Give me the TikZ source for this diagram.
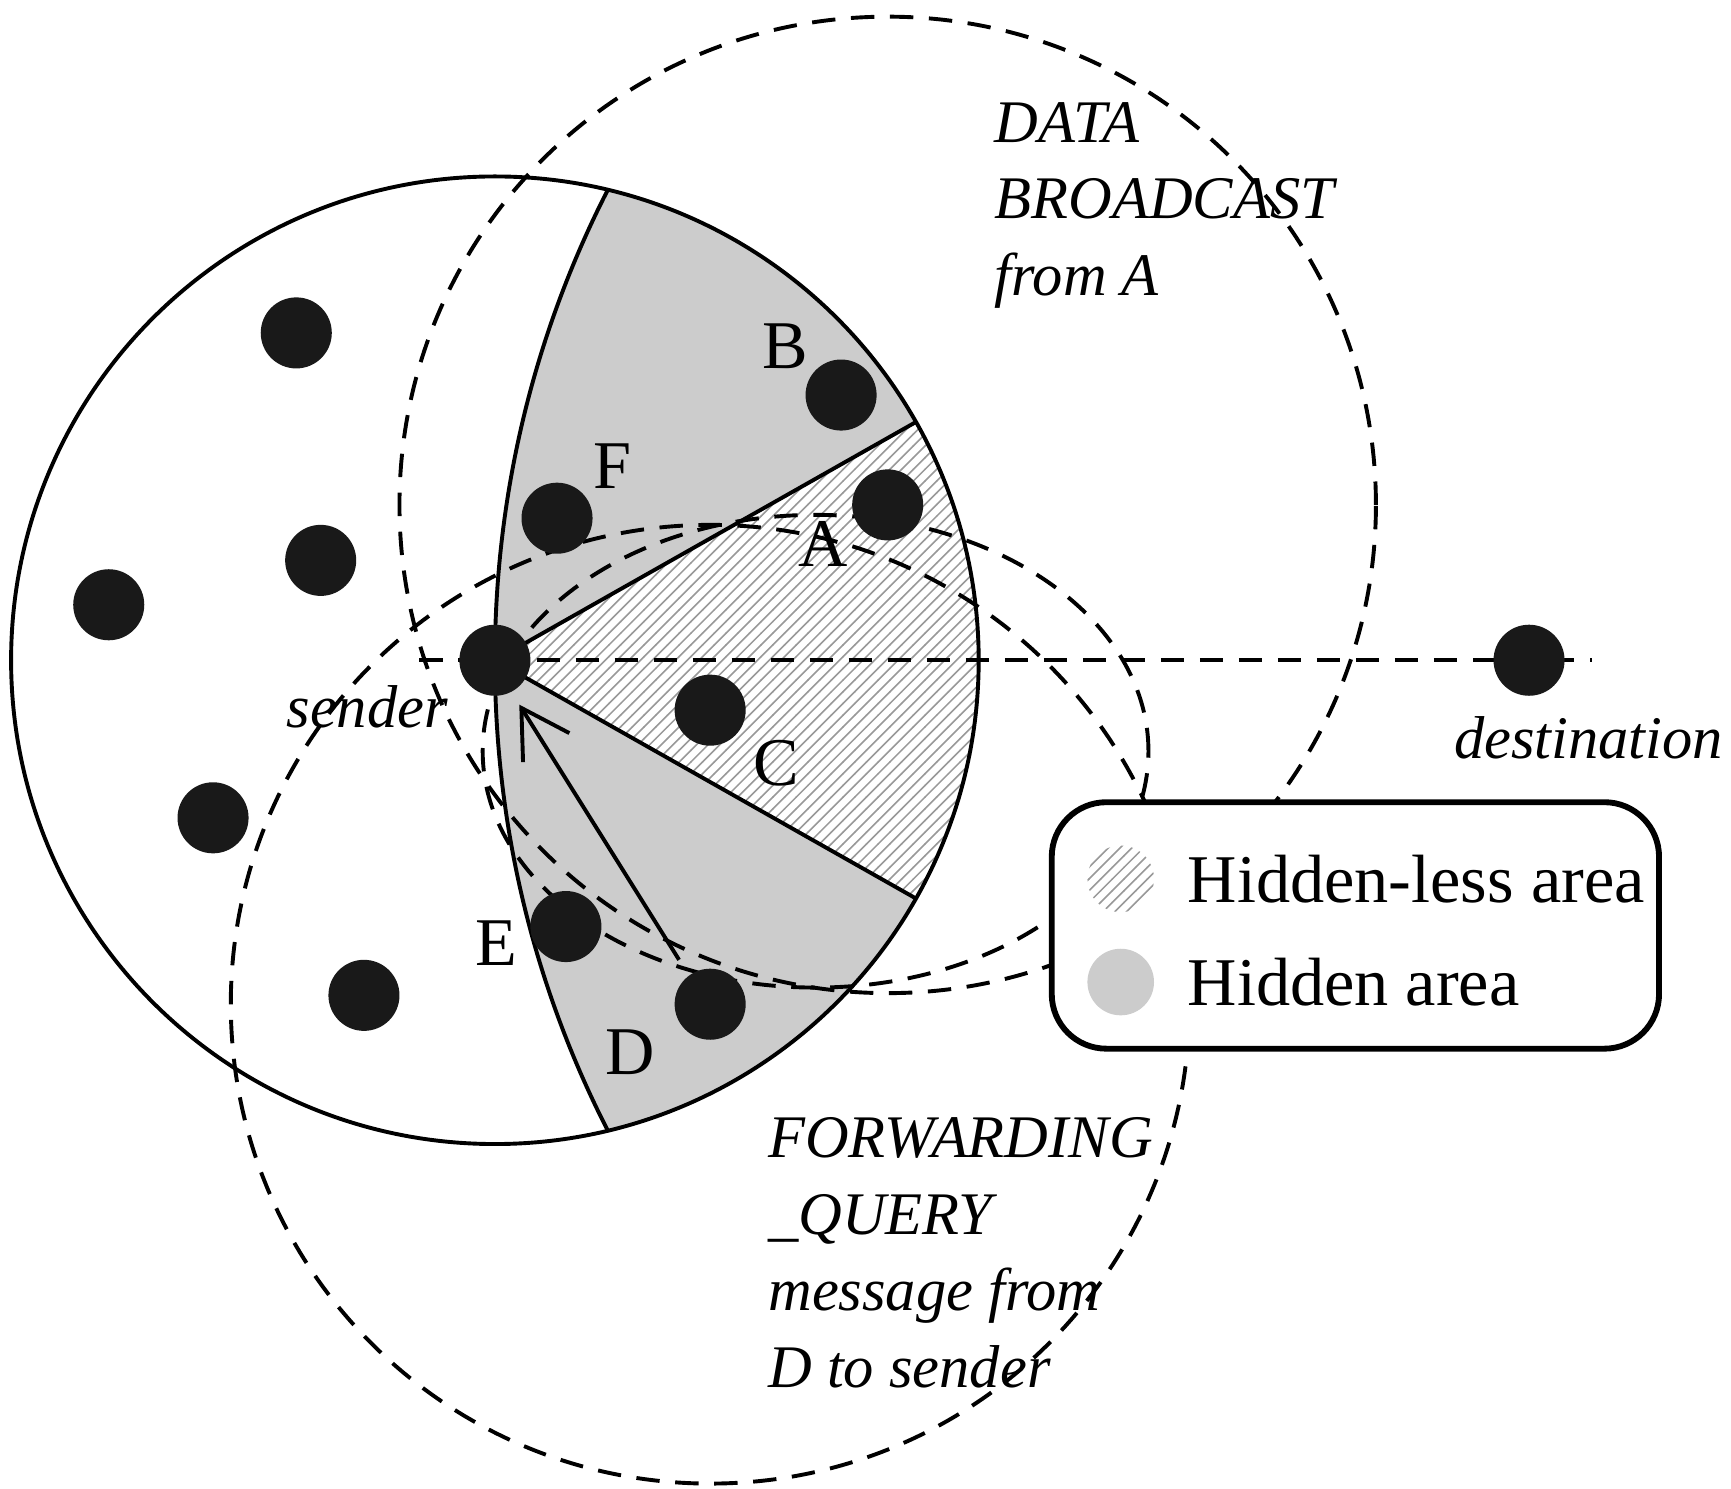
\documentclass[tikz,border=0pt]{standalone}
\usepackage{fontspec}
\setmainfont{Liberation Serif}
\usetikzlibrary{patterns,arrows.meta}
\definecolor{hid}{gray}{0.8}
\begin{document}
\begin{tikzpicture}[x=0.01cm,y=0.01cm,
  dot/.style={circle,fill=black!90,minimum size=0.64cm,inner sep=0pt},
  ln/.style={line width=1pt},
  dsh/.style={line width=1pt,dash pattern=on 6pt off 4pt},
  lab/.style={font=\fontsize{17.5}{21}\selectfont},
  it/.style={font=\fontsize{15.5}{19.6}\selectfont\itshape,align=left}]
\useasboundingbox (0,0) rectangle (1560,-1341);
% gray region
\begin{scope}
\clip (446,-595) circle (436);
\fill[hid] (1378,-595) circle (932);
\end{scope}
\fill[white] (446,-595) -- ++(29.5:436) arc[start angle=29.5,end angle=-29.5,radius=436] -- cycle;
\fill[pattern=north east lines,pattern color=gray!80] (446,-595) -- ++(29.5:436) arc[start angle=29.5,end angle=-29.5,radius=436] -- cycle;
\draw[ln] (446,-595) -- ++(29.5:436);
\draw[ln] (446,-595) -- ++(-29.5:436);
\begin{scope}
\clip (446,-595) circle (436);
\draw[ln] (1378,-595) circle (932);
\end{scope}
\draw[ln] (446,-595) circle (436);
% dashed
\draw[dsh] (800,-455) circle (440);
\draw[dsh] (640,-905) circle (432);
\draw[dsh] (735,-677) ellipse [x radius=300,y radius=213];
\draw[dsh] (378,-595) -- (1435,-595);
% nodes
\foreach \p/\n in {{267,-300}/n1,{289,-505}/n2,{98,-545}/n3,{192,-737}/n4,{328,-897}/n5}
  \node[dot] (\n) at (\p) {};
\node[dot] (B) at (758,-356) {};
\node[dot] (F) at (502,-467) {};
\node[dot] (A) at (800,-455) {};
\node[dot] (S) at (446,-595) {};
\node[dot] (C) at (640,-640) {};
\node[dot] (E) at (510,-835) {};
\node[dot] (D) at (640,-905) {};
\node[dot] (dest) at (1378,-595) {};
\node[lab] at (708,-312) {B};
\node[lab] at (552,-420) {F};
\node[lab] at (742,-490) {A};
\node[lab] at (700,-688) {C};
\node[lab] at (447,-850) {E};
\node[lab] at (568,-948) {D};
\coordinate (dt) at (612,-865);
\coordinate (st) at (468,-635);
\draw[ln,-{Straight Barb[length=12pt,width=14pt]}] (dt) -- (st);
\node[it,anchor=east] at (416,-637) {sender};
\node[it,anchor=west] at (1298,-665) {destination};
\node[it,anchor=north west] at (884,-80) {DATA\\BROADCAST\\from A};
\node[it,anchor=north west] at (680,-995) {FORWARDING\\\_QUERY\\message from\\D to sender};
% legend
\node[draw,line width=1.5pt,rounded corners=14pt,fill=white,minimum width=5.47cm,minimum height=2.22cm] (leg) at (1221.5,-834) {};
\fill[pattern=north east lines,pattern color=gray!80] (1010,-792) circle (30);
\fill[hid] (1010,-885) circle (30);
\node[lab,anchor=west] at (1058,-792) {Hidden-less area};
\node[lab,anchor=west] at (1058,-885) {Hidden area};
\end{tikzpicture}
\end{document}
